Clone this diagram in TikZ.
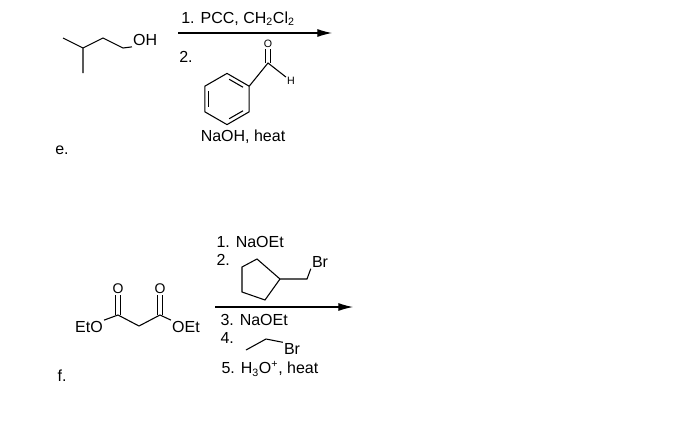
\documentclass[tikz,border=0pt]{standalone}
\usepackage{fontspec}
\setmainfont{Liberation Sans}
\usetikzlibrary{arrows.meta,calc}
\begin{document}
\begin{tikzpicture}[x=0.75pt,y=-0.75pt,line width=0.8pt,
  lbl/.style={inner sep=0pt,font=\fontsize{12}{14}\selectfont},
  atm/.style={inner sep=0.5pt,font=\fontsize{12}{14}\selectfont},
  sml/.style={inner sep=0.5pt,font=\fontsize{8}{9}\selectfont},
  bond/.style={line width=0.8pt},
  rxn/.style={line width=0.8pt,-{Latex[length=11pt,width=6pt]}}]
\useasboundingbox (0,0) rectangle (700,436);
% ---- e ----
\node[lbl] (le) at (62,150) {e.};
\coordinate (e1) at (63,38);
\coordinate (e2) at (83,48);
\coordinate (e3) at (83,73);
\coordinate (e4) at (103,38);
\coordinate (e5) at (123,48);
\node[atm,anchor=west] (oh) at (132,40) {OH};
\draw[bond] (e1)--(e2)--(e3) (e2)--(e4)--(e5)--(oh.south west);
\coordinate (ae1) at (178,33);
\coordinate (ae2) at (332,33);
\draw[rxn] (ae1)--(ae2);
\node[lbl] (pcc) at (238,19) {1. PCC, CH\textsubscript{2}Cl\textsubscript{2}};
\node[lbl] (two) at (186,57) {2.};
% benzaldehyde
\coordinate (cen) at (227,99);
\coordinate (r1) at (227,73.4);
\coordinate (r2) at (249.2,86.2);
\coordinate (r3) at (249.2,111.8);
\coordinate (r4) at (227,124.6);
\coordinate (r5) at (204.8,111.8);
\coordinate (r6) at (204.8,86.2);
\draw[bond] (r1)--(r2)--(r3)--(r4)--(r5)--(r6)--cycle;
\foreach \a/\b in {r1/r2,r3/r4,r5/r6}
  \draw[bond] ($($(\a)!0.18!(cen)$)!0.12!($(\b)!0.18!(cen)$)$)--($($(\b)!0.18!(cen)$)!0.12!($(\a)!0.18!(cen)$)$);
\coordinate (cc) at (268,63);
\node[sml] (oa) at (268,44) {O};
\node[sml] (ha) at (291,81) {H};
\draw[bond] (r2)--(cc)--(ha);
\draw[bond] ([xshift=-1.6]cc)--([xshift=-1.6]oa.south) ([xshift=1.6]cc)--([xshift=1.6]oa.south);
\node[lbl] (naoh) at (243,137) {NaOH, heat};
% ---- f ----
\node[lbl] (lf) at (62,376) {f.};
\node[atm,anchor=east] (eto) at (104,327) {EtO};
\coordinate (c1) at (118,315);
\coordinate (ch) at (139,326);
\coordinate (c2) at (160,315);
\node[atm,anchor=west] (oet) at (171,327) {OEt};
\node[sml,font=\fontsize{10.5}{12}\selectfont] (o1) at (118,289) {O};
\node[sml,font=\fontsize{10.5}{12}\selectfont] (o2) at (160,289) {O};
\draw[bond] (eto.north east)--(c1)--(ch)--(c2)--(oet.north west);
\draw[bond] ([xshift=-1.6]c1)--([xshift=-1.6]o1.south) ([xshift=1.6]c1)--([xshift=1.6]o1.south);
\draw[bond] ([xshift=-1.6]c2)--([xshift=-1.6]o2.south) ([xshift=1.6]c2)--([xshift=1.6]o2.south);
\coordinate (af1) at (215,307);
\coordinate (af2) at (353,307);
\draw[rxn] (af1)--(af2);
\node[lbl,anchor=west] (s1) at (216,242) {1. NaOEt};
\node[lbl,anchor=west] (s2) at (216,260) {2.};
\coordinate (p1) at (257,259);
\coordinate (p2) at (280,279);
\coordinate (p3) at (265,300);
\coordinate (p4) at (242,292);
\coordinate (p5) at (242,267);
\coordinate (pm) at (307,279);
\node[atm] (br1) at (320,262) {Br};
\draw[bond] (p1)--(p2)--(p3)--(p4)--(p5)--cycle (p2)--(pm)--(br1.south west);
\node[lbl,anchor=west] (s3) at (220,320) {3. NaOEt};
\node[lbl,anchor=west] (s4) at (220,338) {4.};
\coordinate (t1) at (246,350);
\coordinate (t2) at (266,339);
\node[atm] (br2) at (292,349) {Br};
\draw[bond] (t1)--(t2)--(br2.north west);
\node[lbl,anchor=west] (s5) at (221,369) {5. H\textsubscript{3}O\textsuperscript{+}, heat};
\end{tikzpicture}
\end{document}
